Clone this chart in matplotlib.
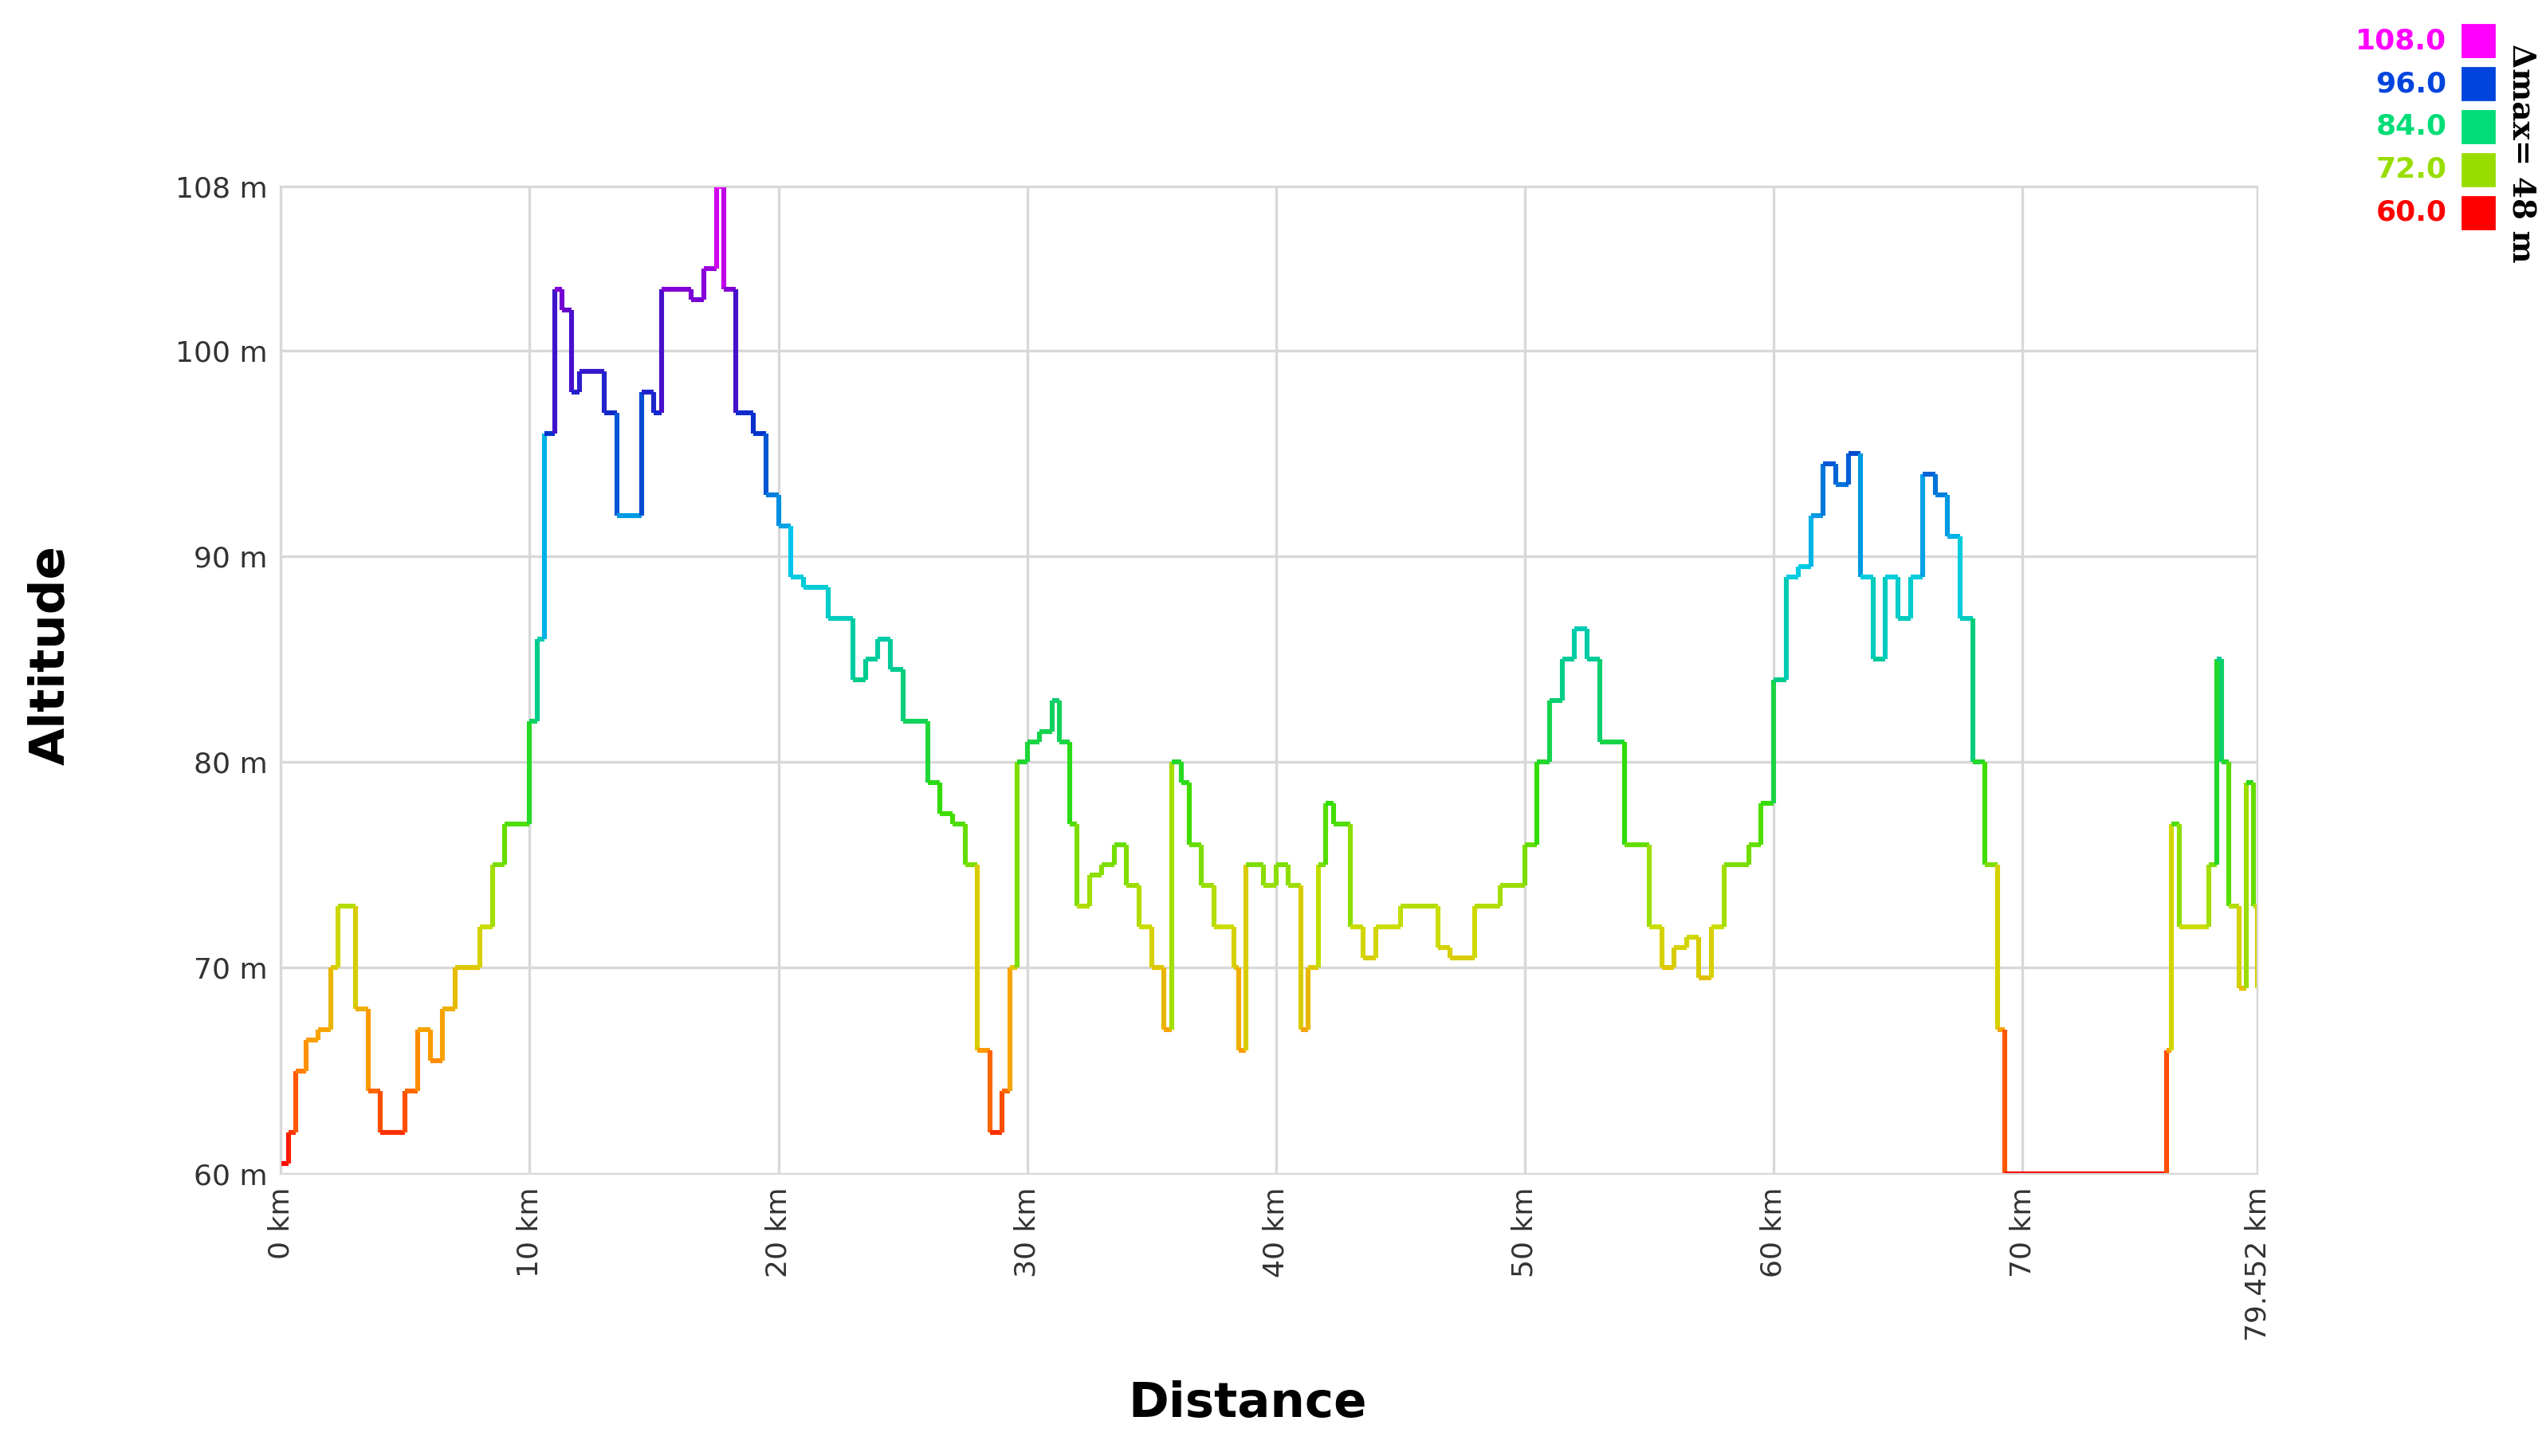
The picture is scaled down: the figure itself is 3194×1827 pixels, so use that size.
import numpy as np
import matplotlib
matplotlib.use("Agg")
from matplotlib import pyplot as plt
from matplotlib.collections import LineCollection
from matplotlib.colors import LinearSegmentedColormap, Normalize

# profil (km, m)
dist_km = [0, 0.3, 0.6, 1, 1.5, 2, 2.3, 2.7, 3, 3.5, 4, 4.5, 5, 5.5, 6, 6.5, 7, 7.5, 8, 8.5, 9, 10,
           10.3, 10.6, 11, 11.3, 11.7, 12, 12.5, 13, 13.5, 14, 14.5, 15, 15.3, 16, 16.5, 17, 17.5, 17.8,
           18.3, 19, 19.5, 20, 20.5, 21, 22, 23, 23.5, 24, 24.5, 25, 26, 26.5, 27, 27.5, 28, 28.5, 29,
           29.3, 29.6, 30, 30.5, 31, 31.3, 31.7, 32, 32.5, 33, 33.5, 34, 34.5, 35, 35.5, 35.8, 36.2,
           36.5, 37, 37.5, 38, 38.3, 38.5, 38.8, 39.5, 40, 40.5, 41, 41.3, 41.7, 42, 42.3, 43, 43.5, 44,
           45, 46, 46.5, 47, 48, 49, 50, 50.5, 51, 51.5, 52, 52.5, 53, 54, 55, 55.5, 56, 56.5, 57, 57.5,
           58, 59, 59.5, 60, 60.5, 61, 61.5, 62, 62.5, 63, 63.5, 64, 64.5, 65, 65.5, 66, 66.5, 67, 67.5,
           68, 68.5, 69, 69.3, 75.5, 75.8, 76, 76.3, 77, 77.5, 77.8, 78, 78.3, 78.7, 79, 79.3, 79.452]
alt_m = [60.5, 62, 65, 66.5, 67, 70, 73, 73, 68, 64, 62, 62, 64, 67, 65.5, 68, 70, 70, 72, 75, 77, 82,
         86, 96, 103, 102, 98, 99, 99, 97, 92, 92, 98, 97, 103, 103, 102.5, 104, 108, 103,
         97, 96, 93, 91.5, 89, 88.5, 87, 84, 85, 86, 84.5, 82, 79, 77.5, 77, 75, 66, 62, 64,
         70, 80, 81, 81.5, 83, 81, 77, 73, 74.5, 75, 76, 74, 72, 70, 67, 80, 79,
         76, 74, 72, 72, 70, 66, 75, 74, 75, 74, 67, 70, 75, 78, 77, 72, 70.5, 72,
         73, 73, 71, 70.5, 73, 74, 76, 80, 83, 85, 86.5, 85, 81, 76, 72, 70, 71, 71.5, 69.5, 72,
         75, 76, 78, 84, 89, 89.5, 92, 94.5, 93.5, 95, 89, 85, 89, 87, 89, 94, 93, 91, 87,
         80, 75, 67, 60, 60, 66, 77, 72, 72, 75, 85, 80, 73, 69, 79, 73, 69]

legend_vals = [108.0, 96.0, 84.0, 72.0, 60.0]
legend_cols = ["#ff00ff", "#0044dd", "#00dd77", "#99dd00", "#ff0000"]
yticks = [60, 70, 80, 90, 100, 108]
xticks = [0, 10, 20, 30, 40, 50, 60, 70, 79.452]
xlabels = ["0 km", "10 km", "20 km", "30 km", "40 km", "50 km", "60 km", "70 km", "79.452 km"]

cmap = LinearSegmentedColormap.from_list(
    "alt", ["#ff0000", "#ff9900", "#ccdd00", "#33dd00", "#00cc88", "#00ccee", "#0033cc", "#6600cc", "#ff00ff"])
norm = Normalize(60, 108)

fig = plt.figure(figsize=(15.97, 9.135), dpi=200)
ax = fig.add_axes([0.1103, 0.194, 0.7764, 0.678])

# tracé en escalier (altitudes arrondies)
x = np.array(dist_km)
y = np.array(alt_m)
xs = np.repeat(x, 2)[1:]
ys = np.repeat(y, 2)[:-1]
pts = np.column_stack([xs, ys]).reshape(-1, 1, 2)
segs = np.concatenate([pts[:-1], pts[1:]], axis=1)
lc = LineCollection(segs, cmap=cmap, norm=norm, linewidth=2.2)
lc.set_array((ys[:-1] + ys[1:]) / 2)
ax.add_collection(lc)

ax.set_xlim(0, 79.452)
ax.set_ylim(60, 108)
ax.set_yticks(yticks)
ax.set_yticklabels([f"{v} m" for v in yticks], fontsize=13, color="#333333")
ax.set_xticks(xticks)
ax.set_xticklabels(xlabels, rotation=90, fontsize=13, color="#333333")
ax.grid(True, color="#d8d8d8", linewidth=1.2)
for s in ax.spines.values():
    s.set_color("#d8d8d8")
ax.tick_params(length=0, pad=6)

fig.text(0.02, 0.55, "Altitude", rotation=90, fontsize=22, fontweight="bold", va="center", ha="center")
fig.text(0.49, 0.036, "Distance", fontsize=22, fontweight="bold", ha="center", va="center")

# légende des couleurs
for i, (v, c) in enumerate(zip(legend_vals, legend_cols)):
    yy = 0.972 - i * 0.0295
    fig.text(0.961, yy, f"{v:.1f}", color=c, fontsize=13, fontweight="bold", ha="right", va="center")
    fig.patches.append(plt.Rectangle((0.967, yy - 0.011), 0.0125, 0.022, transform=fig.transFigure,
                                     color=c, figure=fig))
fig.text(0.99, 0.895, "\u0394max= 48 m", rotation=-90, fontsize=14, fontweight="bold",
         family="DejaVu Serif", ha="center", va="center")

fig.savefig("out.png", dpi=200)
